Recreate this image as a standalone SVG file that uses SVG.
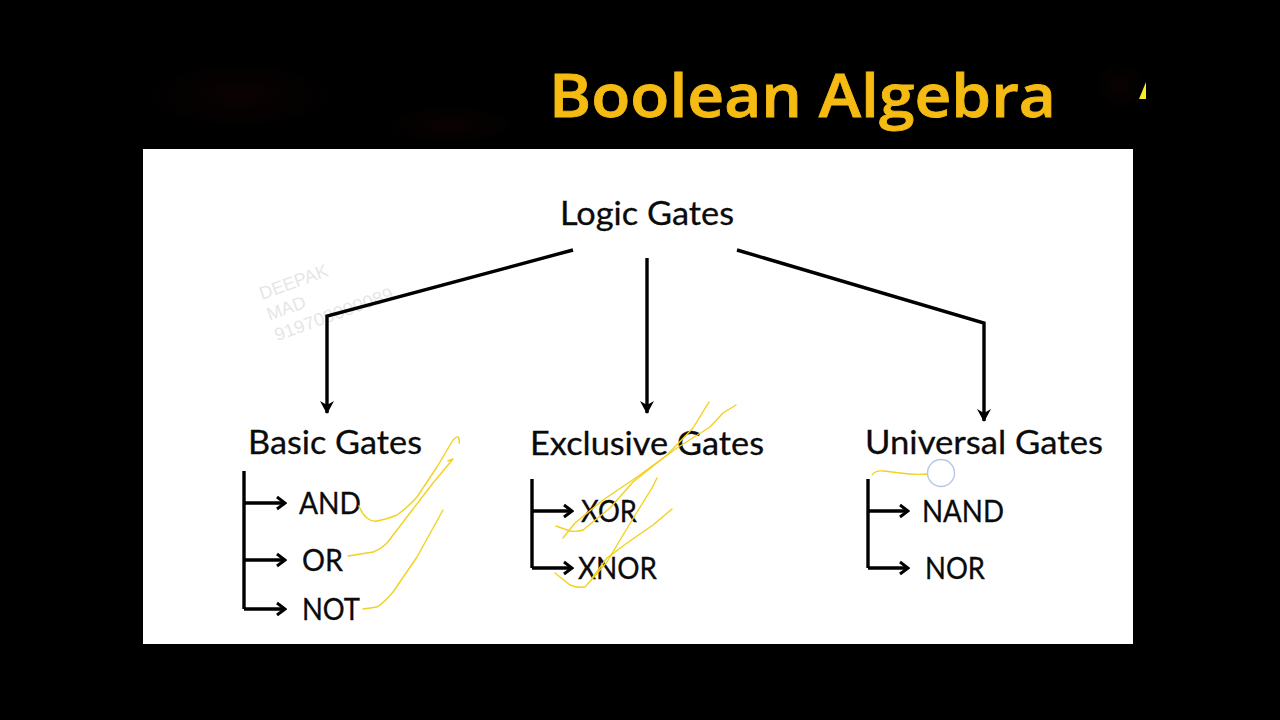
<svg xmlns="http://www.w3.org/2000/svg" width="1280" height="720" viewBox="0 0 1280 720">
<defs>
<marker id="ah" viewBox="0 0 16 16" refX="14" refY="8" markerWidth="16" markerHeight="16" markerUnits="userSpaceOnUse" orient="auto"><path d="M2 1 L15 8 L2 15 L6 8 Z" fill="#000"/></marker>
<marker id="op" viewBox="0 0 14 16" refX="12" refY="8" markerWidth="14" markerHeight="16" markerUnits="userSpaceOnUse" orient="auto"><path d="M4 2 L12 8 L4 14" fill="none" stroke="#000" stroke-width="3"/></marker>
<radialGradient id="g1"><stop offset="0" stop-color="#2a0808"/><stop offset="1" stop-color="#000"/></radialGradient>
</defs>
<style>
.t{font-family:Lato,"Open Sans",sans-serif;fill:#0b0b0b;font-size:33px;stroke:#0b0b0b;stroke-width:.3}
.s{font-family:Lato,"Open Sans",sans-serif;fill:#0b0b0b;font-size:30px;stroke:#0b0b0b;stroke-width:.3}
.c{fill:none;stroke:#000;stroke-width:3.4}
.h{fill:none;stroke:#f2d21c;stroke-width:1.4;stroke-linecap:round;stroke-linejoin:round}
.w{font-family:"Liberation Sans",Arial,sans-serif;font-size:18px;fill:#e6e6e6}
</style>
<rect width="1280" height="720" fill="#000"/>
<ellipse cx="240" cy="95" rx="100" ry="35" fill="url(#g1)" opacity=".25"/>
<ellipse cx="450" cy="125" rx="70" ry="20" fill="url(#g1)" opacity=".25"/>
<ellipse cx="1120" cy="85" rx="25" ry="25" fill="url(#g1)" opacity=".25"/>
<rect x="143" y="149" width="990" height="495" fill="#fff"/>
<text x="549" y="117" font-family="'Open Sans','Noto Sans',sans-serif" font-weight="600" font-size="60" fill="#f5bb13" stroke="#f5bb13" stroke-width=".8" textLength="507" lengthAdjust="spacingAndGlyphs">Boolean Algebra</text>
<path d="M1146 82 L1146 99 L1139 99 Z" fill="#f6ee2a"/>
<g transform="rotate(-20 262 300)">
<text class="w" x="262" y="300">DEEPAK</text>
<text class="w" x="262" y="322">MAD</text>
<text class="w" x="262" y="344" textLength="125" lengthAdjust="spacingAndGlyphs">919700000089</text>
</g>
<g id="connectors">
<path class="c" marker-end="url(#ah)" d="M573 250 L327 316 V413"/>
<path class="c" marker-end="url(#ah)" d="M647 258 V413"/>
<path class="c" marker-end="url(#ah)" d="M737 250 L984 323 V421"/>
<path class="c" d="M244 471 V609"/>
<path class="c" marker-end="url(#op)" d="M244 503 H285"/>
<path class="c" marker-end="url(#op)" d="M244 560 H285"/>
<path class="c" marker-end="url(#op)" d="M244 609 H285"/>
<path class="c" d="M532 479 V568"/>
<path class="c" marker-end="url(#op)" d="M532 511 H572"/>
<path class="c" marker-end="url(#op)" d="M532 568 H572"/>
<path class="c" d="M868 479 V568"/>
<path class="c" marker-end="url(#op)" d="M868 511 H908"/>
<path class="c" marker-end="url(#op)" d="M868 568 H908"/>
</g>
<g id="node-logic"><text class="t" x="560" y="225" textLength="174" lengthAdjust="spacingAndGlyphs">Logic Gates</text></g>
<g id="node-basic"><text class="t" x="248" y="454" textLength="174" lengthAdjust="spacingAndGlyphs">Basic Gates</text></g>
<g id="node-exclusive"><text class="t" x="530" y="455" textLength="234" lengthAdjust="spacingAndGlyphs">Exclusive Gates</text></g>
<g id="node-universal"><text class="t" x="865" y="454" textLength="238" lengthAdjust="spacingAndGlyphs">Universal Gates</text></g>
<g id="node-and"><text class="s" x="299" y="514" textLength="62" lengthAdjust="spacingAndGlyphs">AND</text></g>
<g id="node-or"><text class="s" x="302" y="571" textLength="41" lengthAdjust="spacingAndGlyphs">OR</text></g>
<g id="node-not"><text class="s" x="302" y="620" textLength="58" lengthAdjust="spacingAndGlyphs">NOT</text></g>
<g id="node-xor"><text class="s" x="581" y="522" textLength="56" lengthAdjust="spacingAndGlyphs">XOR</text></g>
<g id="node-xnor"><text class="s" x="578" y="579" textLength="79" lengthAdjust="spacingAndGlyphs">XNOR</text></g>
<g id="node-nand"><text class="s" x="922" y="522" textLength="82" lengthAdjust="spacingAndGlyphs">NAND</text></g>
<g id="node-nor"><text class="s" x="925" y="579" textLength="60" lengthAdjust="spacingAndGlyphs">NOR</text></g>
<g id="annotations">
<path class="h" d="M359 506 Q362 514 367 518 Q372 522 377 521 Q388 519 397 515 Q407 508 417 497 L437 467 L453 440 Q457 436 458 437 Q460 440 459 443"/>
<path class="h" d="M348 556 L373 552 Q381 549 387 543 L410 513 L433 483 L453 459 M448 461 L453 459"/>
<path class="h" d="M363 609 L377 607 Q385 602 393 592 L417 557 L443 510"/>
<path class="h" d="M556 526 L570 531 Q577 532 583 530 L610 508 L633 482 L667 455 L693 428 L709 402"/>
<path class="h" d="M563 538 L575 523 L603 500 L637 477 L677 448 L710 427 L723 413 L736 405"/>
<path class="h" d="M657 478 L652 488 L637 512 L623 535 L607 562 L585 587 Q577 588 570 585 L555 573"/>
<path class="h" d="M672 509 L653 525 L627 543 L607 558 L592 578"/>
<path class="h" d="M872 475 Q875 470 884 471 L900 473 Q915 475 928 474"/>
<circle cx="941" cy="473" r="13.5" fill="#fff" fill-opacity=".6" stroke="#b8c6e2" stroke-width="1.4"/>
</g>
</svg>
